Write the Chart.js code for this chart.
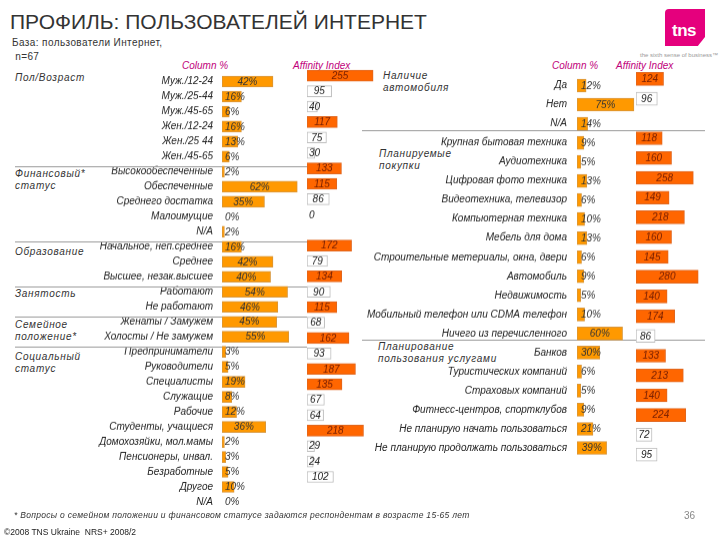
<!DOCTYPE html>
<html lang="ru">
<head>
<meta charset="utf-8">
<title>Профиль: пользователей Интернет</title>
<script src="https://cdn.jsdelivr.net/npm/chart.js@4.4.1/dist/chart.umd.min.js"></script>
<style>
  body { margin: 0; background: #fff; font-family: "Liberation Sans", Arial, sans-serif; }
  #page { position: relative; width: 720px; height: 540px; overflow: hidden; }
  .box { position: absolute; }
  .txt { position: absolute; white-space: nowrap; color: #333; }
  .grp { font-size: 10px; font-style: italic; letter-spacing: 0.7px; line-height: 12px; color: #333; }
  .head { font-size: 10px; font-style: italic; color: #C0007A; }
</style>
</head>
<body>
<div id="page">
  <div class="txt" style="left:10px; top:11px; font-size:21px; line-height:21px; color:#333;">ПРОФИЛЬ: ПОЛЬЗОВАТЕЛЕЙ ИНТЕРНЕТ</div>
  <div class="txt" style="left:12px; top:36px; font-size:10px; line-height:14px; letter-spacing:0.4px;">База: пользователи Интернет,<br>&nbsp;n=67</div>

  <div class="txt head" style="left:182px; top:60px;">Column %</div>
  <div class="txt head" style="left:293px; top:60px;">Affinity Index</div>
  <div class="txt head" style="left:552px; top:60px;">Column %</div>
  <div class="txt head" style="left:616px; top:60px;">Affinity Index</div>

  <!-- left groups -->
  <div class="txt grp" style="left:15px; top:72px;">Пол/Возраст</div>
  <div class="txt grp" style="left:15px; top:168px;">Финансовый*<br>статус</div>
  <div class="txt grp" style="left:15px; top:246px;">Образование</div>
  <div class="txt grp" style="left:15px; top:288px;">Занятость</div>
  <div class="txt grp" style="left:15px; top:319px;">Семейное<br>положение*</div>
  <div class="txt grp" style="left:15px; top:351px;">Социальный<br>статус</div>

  <!-- right groups -->
  <div class="txt grp" style="left:383px; top:70px;">Наличие<br>автомобиля</div>
  <div class="txt grp" style="left:379px; top:148px;">Планируемые<br>покупки</div>
  <div class="txt grp" style="left:378px; top:341px;">Планирование<br>пользования услугами</div>

  <!-- logo -->
  <div class="box" style="left:665px; top:9px; width:40px; height:37px; background:#E5007D; border-top-left-radius:4px; clip-path:polygon(0 0, 100% 0, 100% 76%, 82% 100%, 0 100%);"></div>
  <div class="txt" style="left:672px; top:21px; font-size:17px; font-weight:bold; color:#fff; letter-spacing:-0.5px;">tns</div>
  <div class="txt" style="left:640px; top:52px; font-size:6px; color:#999;">the sixth sense of business™</div>

  <div class="box" style="left:0px; top:59px; width:375px; height:464.5px;"><canvas id="leftCol"></canvas></div>
  <div class="box" style="left:307px; top:59px; width:70px; height:464.5px;"><canvas id="leftAff"></canvas></div>
  <div class="box" style="left:360px; top:60px; width:360px; height:412.5px;"><canvas id="rightCol"></canvas></div>
  <div class="box" style="left:636px; top:60px; width:80px; height:412.5px;"><canvas id="rightAff"></canvas></div>

  <div class="txt" style="left:14px; top:510px; font-size:8.5px; font-style:italic; letter-spacing:0.3px;">* Вопросы о семейном положении и финансовом статусе задаются респондентам в возрасте 15-65 лет</div>
  <div class="txt" style="left:684px; top:510px; font-size:10px; color:#888;">36</div>
  <div class="txt" style="left:4px; top:527px; font-size:8.5px; color:#222;">©2008 TNS Ukraine&nbsp; NRS+ 2008/2</div>
</div>

<script>
// Left block data
const leftCategories = [
  "Муж./12-24", "Муж./25-44", "Муж./45-65", "Жен./12-24", "Жен./25 44", "Жен./45-65",
  "Высокообеспеченные", "Обеспеченные", "Среднего достатка", "Малоимущие", "N/A",
  "Начальное, неп.среднее", "Среднее", "Высшее, незак.высшее",
  "Работают", "Не работают",
  "Женаты / Замужем", "Холосты / Не замужем",
  "Предприниматели", "Руководители", "Специалисты", "Служащие", "Рабочие",
  "Студенты, учащиеся", "Домохозяйки, мол.мамы", "Пенсионеры, инвал.", "Безработные", "Другое", "N/A"
];
const leftColumnPct = [42, 16, 6, 16, 13, 6, 2, 62, 35, 0, 2, 16, 42, 40, 54, 46, 45, 55, 3, 5, 19, 8, 12, 36, 2, 3, 5, 10, 0];
const leftAffinity = [255, 95, 40, 117, 75, 30, 133, 115, 86, 0, null, 172, 79, 134, 90, 115, 68, 162, 93, 187, 135, 67, 64, 218, 29, 24, 102, null, null];
const leftGroupStarts = [6, 11, 14, 16, 18];

// Right block data
const rightCategories = [
  "Да", "Нет", "N/A",
  "Крупная бытовая техника", "Аудиотехника", "Цифровая фото техника", "Видеотехника, телевизор",
  "Компьютерная техника", "Мебель для дома", "Строительные метериалы, окна, двери", "Автомобиль",
  "Недвижимость", "Мобильный телефон или CDMA телефон", "Ничего из перечисленного",
  "Банков", "Туристических компаний", "Страховых компаний", "Фитнесс-центров, спортклубов",
  "Не планирую начать пользоваться", "Не планирую продолжать пользоваться"
];
const rightColumnPct = [12, 75, 14, 9, 5, 13, 6, 10, 13, 6, 9, 5, 10, 60, 30, 6, 5, 9, 21, 39];
const rightAffinity = [124, 96, null, 118, 160, 258, 149, 218, 160, 145, 280, 140, 174, 86, 133, 213, 140, 224, 72, 95];
const rightGroupStarts = [3, 14];

const FONT = '"Liberation Sans", Arial, sans-serif';
const HIGH = 110; // affinity above this is highlighted

// value text inside / next to each bar
const valueLabels = {
  id: "valueLabels",
  afterDatasetsDraw(chart, args, opts) {
    const ctx = chart.ctx;
    const data = chart.data.datasets[0].data;
    ctx.save();
    ctx.font = "italic 10px " + FONT;
    ctx.textAlign = "center";
    ctx.textBaseline = "middle";
    chart.getDatasetMeta(0).data.forEach((bar, i) => {
      const v = data[i];
      if (v === null || v === undefined) return;
      const text = v + opts.suffix;
      const w = ctx.measureText(text).width;
      const x = Math.max((bar.base + bar.x) / 2, bar.base + w / 2 + opts.gap);
      ctx.fillStyle = opts.color(v);
      ctx.fillText(text, x, bar.y + 0.5);
    });
    ctx.restore();
  }
};

// grey lines between groups
const separators = {
  id: "separators",
  beforeDatasetsDraw(chart, args, opts) {
    const ctx = chart.ctx;
    const y = chart.scales.y;
    ctx.save();
    ctx.strokeStyle = "#9a9a9a";
    ctx.lineWidth = 1;
    opts.rows.forEach((r) => {
      const py = Math.round((y.getPixelForValue(r - 1) + y.getPixelForValue(r)) / 2 + opts.shift) + 0.5;
      ctx.beginPath();
      ctx.moveTo(opts.from, py);
      ctx.lineTo(opts.to, py);
      ctx.stroke();
    });
    ctx.restore();
  }
};

function columnChart(id, labels, values, cfg) {
  return new Chart(document.getElementById(id), {
    type: "bar",
    data: {
      labels: labels,
      datasets: [{
        data: values,
        backgroundColor: "#FF9900",
        borderColor: "#D8963A",
        borderWidth: 1,
        borderSkipped: false,
        barThickness: cfg.thickness
      }]
    },
    options: {
      indexAxis: "y",
      responsive: true,
      maintainAspectRatio: false,
      animation: false,
      layout: { padding: { top: 8, bottom: 8, right: cfg.padRight } },
      plugins: {
        legend: { display: false },
        tooltip: { enabled: false },
        valueLabels: { suffix: "%", gap: cfg.gap, color: () => "#333" },
        separators: { rows: cfg.groups, from: cfg.lineFrom, to: cfg.lineTo, shift: cfg.shift }
      },
      scales: {
        x: { display: false, min: 0, max: cfg.max },
        y: {
          grid: { display: false, drawTicks: false },
          border: { display: false },
          ticks: { autoSkip: false, padding: cfg.tickPad, color: "#222", font: { family: FONT, size: 10, style: "italic" } },
          afterFit(scale) { scale.width = cfg.axisWidth; }
        }
      }
    },
    plugins: [valueLabels, separators]
  });
}

function affinityChart(id, labels, values, cfg) {
  return new Chart(document.getElementById(id), {
    type: "bar",
    data: {
      labels: labels,
      datasets: [{
        data: values,
        backgroundColor: values.map((v) => (v > HIGH ? "#FF6600" : "#FFFFFF")),
        borderColor: values.map((v) => (v > HIGH ? "#E0661E" : "#BDBDBD")),
        borderWidth: 1,
        borderSkipped: false,
        barThickness: cfg.thickness
      }]
    },
    options: {
      indexAxis: "y",
      responsive: true,
      maintainAspectRatio: false,
      animation: false,
      layout: { padding: { top: 8, bottom: 8 } },
      plugins: {
        legend: { display: false },
        tooltip: { enabled: false },
        valueLabels: { suffix: "", gap: 2, color: (v) => (v > HIGH ? "#7A2000" : "#222") }
      },
      scales: {
        x: { display: false, min: 0, max: cfg.max },
        y: {
          grid: { display: false, drawTicks: false },
          border: { display: false },
          ticks: { autoSkip: false, color: "rgba(0,0,0,0)", font: { family: FONT, size: 10, style: "italic" } },
          afterFit(scale) { scale.width = 0; }
        }
      }
    },
    plugins: [valueLabels]
  });
}

columnChart("leftCol", leftCategories, leftColumnPct, {
  thickness: 11, padRight: 68, max: 70, axisWidth: 222, tickPad: 9, gap: 3,
  groups: leftGroupStarts, lineFrom: 15, lineTo: 307, shift: 2.5
});
affinityChart("leftAff", leftCategories, leftAffinity, { thickness: 11, max: 270 });

columnChart("rightCol", rightCategories, rightColumnPct, {
  thickness: 13, padRight: 83, max: 79, axisWidth: 217, tickPad: 10, gap: 4,
  groups: rightGroupStarts, lineFrom: 2, lineTo: 345, shift: -3
});
affinityChart("rightAff", rightCategories, rightAffinity, { thickness: 13, max: 360 });
</script>
</body>
</html>
